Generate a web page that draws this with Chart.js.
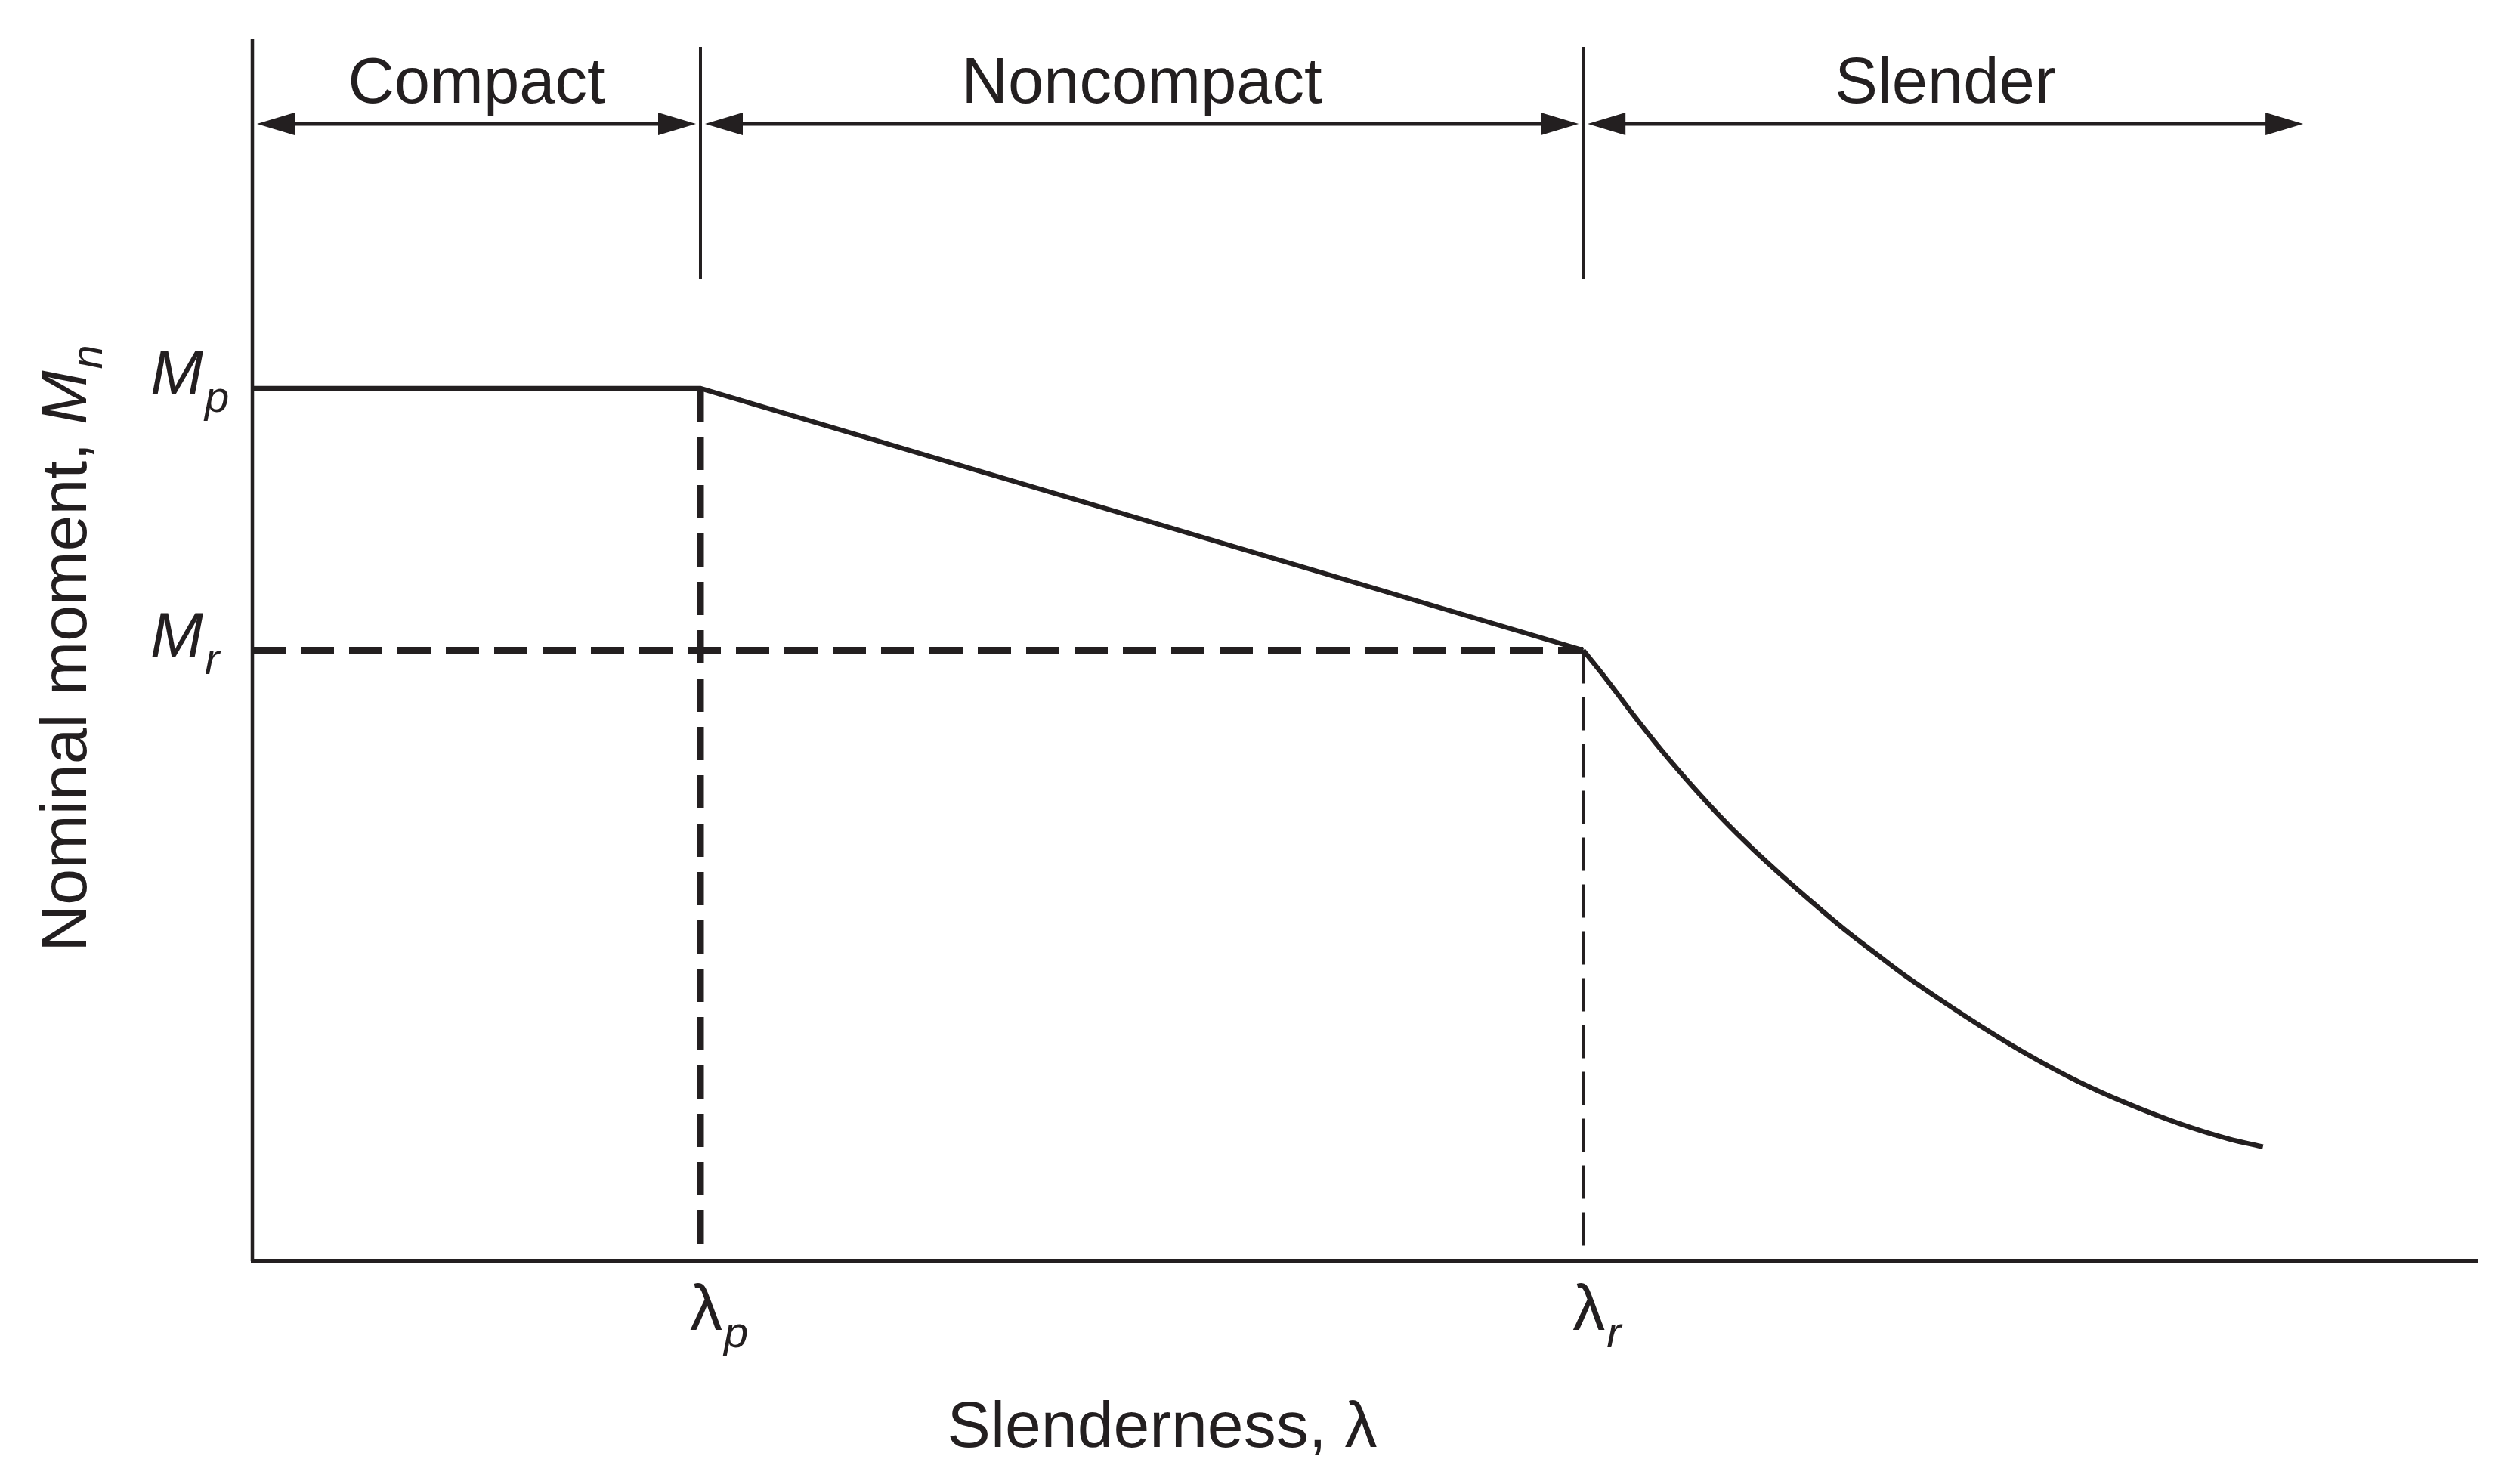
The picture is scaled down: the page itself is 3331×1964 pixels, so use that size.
<!DOCTYPE html>
<html>
<head>
<meta charset="utf-8">
<script src="https://cdn.jsdelivr.net/npm/chart.js@4.4.1/dist/chart.umd.min.js"></script>
<style>
  html, body { margin: 0; padding: 0; background: #fff; }
  #wrap { width: 3331px; height: 1964px; }
</style>
</head>
<body>
<div id="wrap"><canvas id="mnChart"></canvas></div>
<script>
// slenderness in units of lambda_p, moment in units of M_p
const lambdaP = 1.0;
const lambdaR = 2.97;
const Mp = 1.0;
const Mr = 0.70;

// plastic plateau, then the straight inelastic part
const inelasticX = [0, lambdaP, lambdaR];
const inelasticY = [Mp, Mp, Mr];

// elastic part past lambda_r
const elasticX = [2.97, 3.017, 3.079, 3.147, 3.214, 3.282, 3.349, 3.417, 3.484, 3.551,
                  3.619, 3.686, 3.754, 3.855, 3.961, 4.074, 4.187, 4.298, 4.411, 4.487];
const elasticY = [0.70, 0.670, 0.628, 0.584, 0.544, 0.506, 0.472, 0.440, 0.410, 0.381,
                  0.354, 0.328, 0.304, 0.270, 0.237, 0.206, 0.180, 0.158, 0.140, 0.131];

const zoneNames = ['Compact', 'Noncompact', 'Slender'];
const zoneEdges = [0, lambdaP, lambdaR, 4.577];

const xTickValues = [lambdaP, lambdaR];
const xTickLabels = [['λ', 'p'], ['λ', 'r']];
const yTickValues = [Mp, Mr];
const yTickLabels = [['M', 'p'], ['M', 'r']];

const xTitle = 'Slenderness, λ';
const yTitle = ['Nominal moment, ', 'M', 'n'];

const xMax = 4.968;
const yMax = 1.40;

const ink = '#231f20';
const FONT = '"Liberation Sans", Arial, Helvetica, sans-serif';

function pts(xs, ys) {
    return xs.map((v, i) => ({ x: v, y: ys[i] }));
}

// main glyph + lowered subscript, left aligned at x, baseline y
function drawSub(ctx, main, sub, x, y, mainFont, subFont, drop) {
    ctx.font = mainFont;
    ctx.fillText(main, x, y);
    const w = ctx.measureText(main).width;
    ctx.font = subFont;
    ctx.fillText(sub, x + w + 2, y + drop);
}

function arrowHead(ctx, tipX, y, dir) {
    // dir = -1 points left, +1 points right
    ctx.beginPath();
    ctx.moveTo(tipX, y);
    ctx.lineTo(tipX - dir * 50, y - 15);
    ctx.lineTo(tipX - dir * 50, y + 15);
    ctx.closePath();
    ctx.fill();
}

const figurePlugin = {
    id: 'figure',
    beforeDatasetsDraw(chart) {
        const { ctx, chartArea: a, scales: { x, y } } = chart;
        const x0 = x.getPixelForValue(0);
        const y0 = y.getPixelForValue(0);
        ctx.save();
        ctx.strokeStyle = ink;
        ctx.lineWidth = 4.5;
        ctx.beginPath();
        ctx.moveTo(x0, a.top);
        ctx.lineTo(x0, y0);
        ctx.stroke();
        ctx.lineWidth = 6;
        ctx.beginPath();
        ctx.moveTo(x0 - 2, y0);
        ctx.lineTo(a.right, y0);
        ctx.stroke();
        ctx.restore();
    },
    afterDatasetsDraw(chart) {
        const { ctx, chartArea: a, scales: { x, y } } = chart;
        ctx.save();
        ctx.fillStyle = ink;
        ctx.strokeStyle = ink;

        // zone markers, arrows and names
        const arrowY = a.top + 112;
        ctx.lineWidth = 4;
        for (let i = 1; i < zoneEdges.length - 1; i++) {
            const px = x.getPixelForValue(zoneEdges[i]);
            ctx.beginPath();
            ctx.moveTo(px, a.top + 10);
            ctx.lineTo(px, a.top + 317);
            ctx.stroke();
        }
        ctx.lineWidth = 5;
        ctx.textAlign = 'center';
        ctx.textBaseline = 'alphabetic';
        ctx.font = '85px ' + FONT;
        for (let i = 0; i < zoneNames.length; i++) {
            const l = x.getPixelForValue(zoneEdges[i]) + 6;
            const r = x.getPixelForValue(zoneEdges[i + 1]) - (i === zoneNames.length - 1 ? 0 : 6);
            ctx.beginPath();
            ctx.moveTo(l + 20, arrowY);
            ctx.lineTo(r - 20, arrowY);
            ctx.stroke();
            arrowHead(ctx, l, arrowY, -1);
            arrowHead(ctx, r, arrowY, 1);
            ctx.fillText(zoneNames[i], (l + r) / 2, a.top + 84);
        }

        // y tick labels
        ctx.textAlign = 'left';
        yTickValues.forEach((v, i) => {
            const py = y.getPixelForValue(v);
            drawSub(ctx, yTickLabels[i][0], yTickLabels[i][1], 199, py + 8,
                'italic 84px ' + FONT, 'italic 58px ' + FONT, 23);
        });

        // x tick labels
        xTickValues.forEach((v, i) => {
            const px = x.getPixelForValue(v);
            drawSub(ctx, xTickLabels[i][0], xTickLabels[i][1], px - 14, y.getPixelForValue(0) + 91,
                '86px ' + FONT, 'italic 58px ' + FONT, 23);
        });

        // x title
        ctx.textAlign = 'center';
        ctx.font = '86px ' + FONT;
        ctx.fillText(xTitle, 1538, y.getPixelForValue(0) + 246);

        // y title, rotated
        ctx.save();
        ctx.translate(114, 858);
        ctx.rotate(-Math.PI / 2);
        ctx.textAlign = 'left';
        ctx.font = '86px ' + FONT;
        const w1 = ctx.measureText(yTitle[0]).width;
        ctx.font = 'italic 86px ' + FONT;
        const w2 = ctx.measureText(yTitle[1]).width;
        ctx.font = 'italic 58px ' + FONT;
        const w3 = ctx.measureText(yTitle[2]).width;
        let sx = -(w1 + w2 + w3 + 2) / 2;
        ctx.font = '86px ' + FONT;
        ctx.fillText(yTitle[0], sx, 0);
        drawSub(ctx, yTitle[1], yTitle[2], sx + w1, 0, 'italic 86px ' + FONT, 'italic 58px ' + FONT, 21);
        ctx.restore();

        ctx.restore();
    }
};

new Chart(document.getElementById('mnChart'), {
    type: 'line',
    data: {
        datasets: [
            {
                label: 'Mp-Mn',
                data: pts(inelasticX, inelasticY),
                borderColor: ink,
                borderWidth: 6.5,
                tension: 0,
                order: 1
            },
            {
                label: 'elastic',
                data: pts(elasticX, elasticY),
                borderColor: ink,
                borderWidth: 6.5,
                cubicInterpolationMode: 'monotone',
                order: 1
            },
            {
                label: 'lambda_p',
                data: pts([lambdaP, lambdaP], [Mp, 0]),
                borderColor: ink,
                borderWidth: 9,
                borderDash: [44, 20],
                order: 2
            },
            {
                label: 'Mr',
                data: pts([0, lambdaR], [Mr, Mr]),
                borderColor: ink,
                borderWidth: 9,
                borderDash: [44, 20],
                order: 2
            },
            {
                label: 'lambda_r',
                data: pts([lambdaR, lambdaR], [Mr, 0]),
                borderColor: ink,
                borderWidth: 4,
                borderDash: [44, 18],
                order: 2
            }
        ]
    },
    options: {
        responsive: true,
        maintainAspectRatio: false,
        animation: false,
        layout: {
            padding: { left: 334, right: 51, top: 52, bottom: 295 }
        },
        elements: {
            point: { radius: 0 }
        },
        plugins: {
            legend: { display: false },
            tooltip: { enabled: false }
        },
        scales: {
            x: { type: 'linear', min: 0, max: xMax, display: false },
            y: { type: 'linear', min: 0, max: yMax, display: false }
        }
    },
    plugins: [figurePlugin]
});
</script>
</body>
</html>
